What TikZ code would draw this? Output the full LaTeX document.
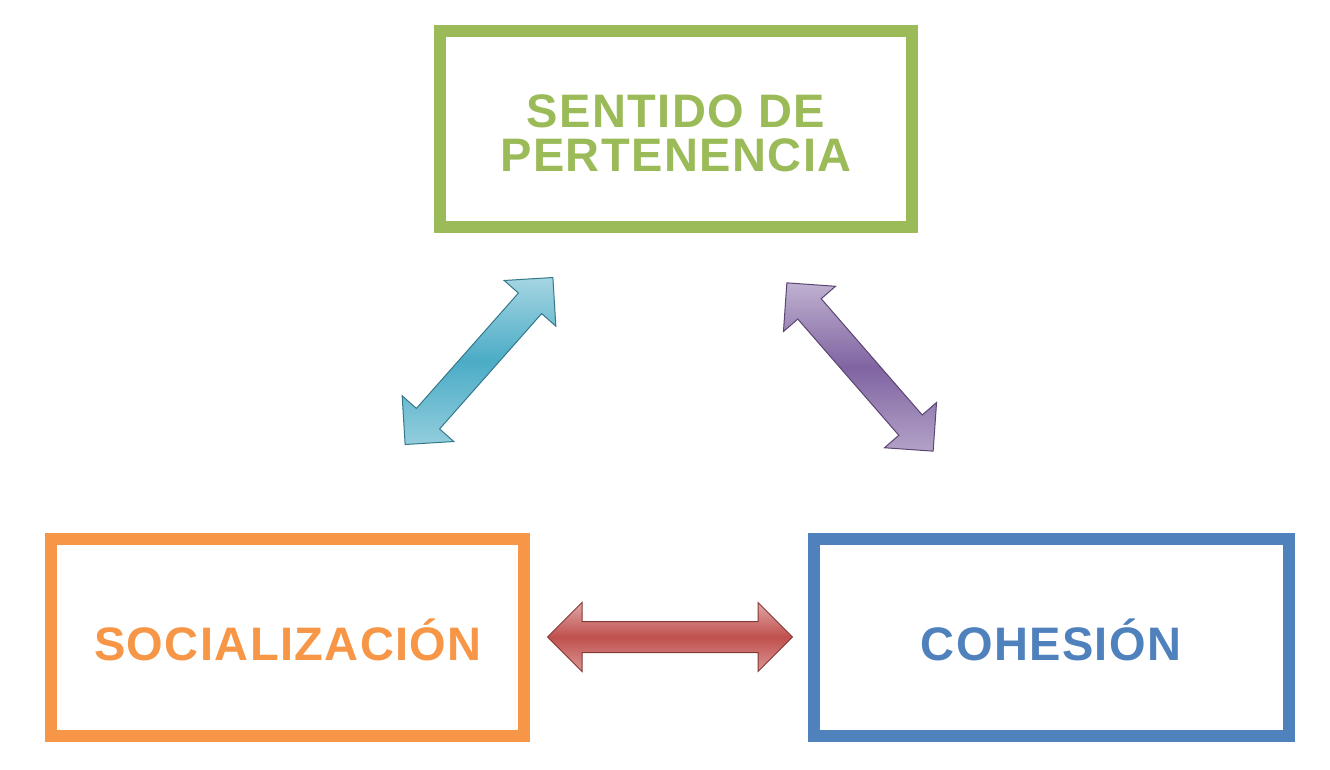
\documentclass[tikz,border=0pt]{standalone}
\usepackage{fontspec}
\setmainfont{Liberation Sans}[LetterSpace=3]
\usetikzlibrary{shapes.arrows}
\begin{document}
\begin{tikzpicture}[x=1pt,y=-1pt,
  box/.style={draw=#1,line width=12pt,fill=white},
  lbl/.style={font=\bfseries\fontsize{47}{46}\selectfont,align=center},
  darr/.style={double arrow,double arrow head extend=19pt,inner xsep=0pt,inner ysep=15pt,draw=#1!70!black,line width=1pt,shading=axis,top color=#1!50!white,bottom color=#1!60!white,middle color=#1}]
\useasboundingbox (0,0) rectangle (1330,769);
\definecolor{cg}{RGB}{155,187,89}
\definecolor{co}{RGB}{247,150,70}
\definecolor{cb}{RGB}{79,129,189}
\definecolor{cc}{RGB}{75,172,198}
\definecolor{cp}{RGB}{128,100,162}
\definecolor{cr}{RGB}{192,80,77}
\draw[box=cg] (440,31) rectangle (912,227);
\draw[box=co] (51,539) rectangle (524,736);
\draw[box=cb] (814,539) rectangle (1289,736);
\node[lbl,text=cg] (top) at (676,133) {SENTIDO DE\\[-2pt]PERTENENCIA};
\node[lbl,text=co] (soc) at (288,640) {SOCIALIZACIÓN};
\node[lbl,text=cb] (coh) at (1051,640) {COHESIÓN};
\node[darr=cc,minimum height=223pt,rotate=48.5] (a1) at (479,361) {};
\node[darr=cp,minimum height=223pt,rotate=-49] (a2) at (860,367) {};
\node[darr=cr,minimum height=245pt] (a3) at (670,637) {};
\end{tikzpicture}
\end{document}
